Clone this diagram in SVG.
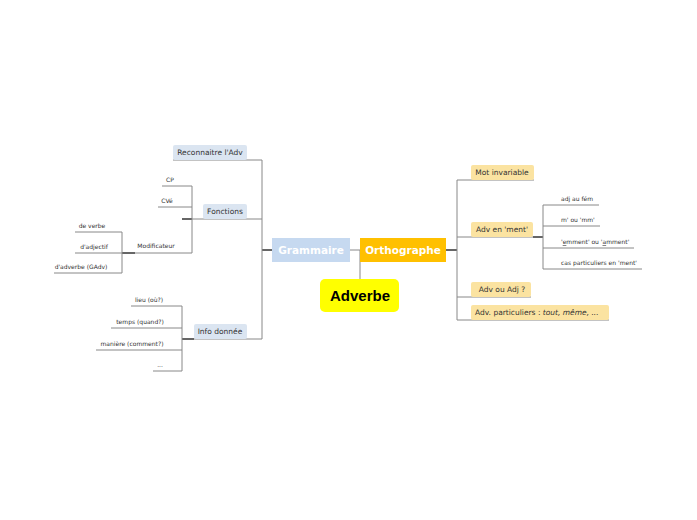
<svg xmlns="http://www.w3.org/2000/svg" width="697" height="520" viewBox="0 0 697 520">
<style>
text{font-family:Verdana,"DejaVu Sans",sans-serif;fill:#333}
.l{font-size:6px}
.b{font-size:7.5px}
.bb{fill:#dbe5f1}
.ob{fill:#fbe3a1}
.c{stroke:#888;stroke-width:1;fill:none}
.t{stroke:#666;stroke-width:2;fill:none}
</style>
<rect width="697" height="520" fill="#fff"/>
<g id="connectors">
<path class="c" d="M350 250H360V279"/>
<path class="t" d="M262 250H272"/>
<path class="c" d="M262 160V339M173 160H262M190 219H262M182 339H262"/>
<path class="t" d="M182 219H192"/>
<path class="c" d="M192 186V253M162 186H192M158 207H192M133 253H192"/>
<path class="t" d="M122 253H135"/>
<path class="c" d="M122 232V273M75 232H122M75 253H122M54 273H122"/>
<path class="t" d="M182 339H194"/>
<path class="c" d="M182 306V371M131 306H182M111 328H182M96 350H182M153 371H182"/>
<path class="t" d="M446 250H457"/>
<path class="c" d="M457 180V320M457 180H534M457 237H533M457 297H531M457 320H609"/>
<path class="t" d="M533 237H543"/>
<path class="c" d="M543 205V269M543 205H599M543 226H600M543 248H634M543 269H642"/>
</g>
<g id="adverbe"><rect x="320" y="279" width="79" height="33" rx="5" fill="#ffff00"/><text x="360" y="301" text-anchor="middle" style="font-family:'Liberation Sans',Arial,sans-serif;font-size:15px;font-weight:bold;fill:#000">Adverbe</text></g>
<g id="grammaire"><rect x="272" y="238" width="78" height="24" fill="#c6d9f0"/><text x="311" y="254" text-anchor="middle" font-size="10.5" font-weight="bold" style="fill:#fff">Grammaire</text></g>
<g id="orthographe"><rect x="360" y="238" width="86" height="24" fill="#ffc000"/><text x="403" y="254" text-anchor="middle" font-size="10.5" font-weight="bold" style="fill:#fff">Orthographe</text></g>
<g id="reconnaitre"><rect class="bb" x="173" y="145" width="74" height="15" rx="2"/><text class="b" x="210" y="155" text-anchor="middle">Reconnaitre l'Adv</text></g>
<g id="fonctions"><rect class="bb" x="203" y="204" width="44" height="15" rx="2"/><text class="b" x="225" y="214" text-anchor="middle">Fonctions</text></g>
<g id="info"><rect class="bb" x="194" y="324" width="53" height="15" rx="2"/><text class="b" x="220" y="334" text-anchor="middle">Info donnée</text></g>
<g id="cp"><text class="l" x="170" y="182" text-anchor="middle">CP</text></g>
<g id="cve"><text class="l" x="167" y="203" text-anchor="middle">CVé</text></g>
<g id="modif"><text class="l" x="156" y="248" text-anchor="middle">Modificateur</text></g>
<g id="deverbe"><text class="l" x="92" y="228" text-anchor="middle">de verbe</text></g>
<g id="dadj"><text class="l" x="94" y="249" text-anchor="middle">d'adjectif</text></g>
<g id="dadv"><text class="l" x="81" y="269" text-anchor="middle">d'adverbe (GAdv)</text></g>
<g id="lieu"><text class="l" x="149" y="302" text-anchor="middle">lieu (où?)</text></g>
<g id="temps"><text class="l" x="140" y="324" text-anchor="middle">temps (quand?)</text></g>
<g id="maniere"><text class="l" x="132" y="346" text-anchor="middle">manière (comment?)</text></g>
<g id="etc"><text class="l" x="160" y="367" text-anchor="middle">...</text></g>
<g id="mot"><rect class="ob" x="471" y="165" width="63" height="15" rx="2"/><text class="b" x="502" y="175" text-anchor="middle">Mot invariable</text></g>
<g id="ment"><rect class="ob" x="471" y="222" width="62" height="15" rx="2"/><text class="b" x="502" y="232" text-anchor="middle">Adv en 'ment'</text></g>
<g id="advadj"><rect class="ob" x="471" y="282" width="60" height="15" rx="2"/><text class="b" x="502" y="292" text-anchor="middle">Adv ou Adj ?</text></g>
<g id="part"><rect class="ob" x="471" y="305" width="138" height="15" rx="2"/><text class="b" x="475" y="315">Adv. particuliers : <tspan font-style="italic">tout, même, ...</tspan></text></g>
<g id="adjfem"><text class="l" x="561" y="201">adj au fém</text></g>
<g id="mm"><text class="l" x="561" y="222">m' ou 'mm'</text></g>
<g id="emment"><text class="l" x="561" y="244">'<tspan text-decoration="underline">e</tspan>mment' ou '<tspan text-decoration="underline">a</tspan>mment'</text></g>
<g id="cas"><text class="l" x="561" y="265">cas particuliers en 'ment'</text></g>
</svg>
